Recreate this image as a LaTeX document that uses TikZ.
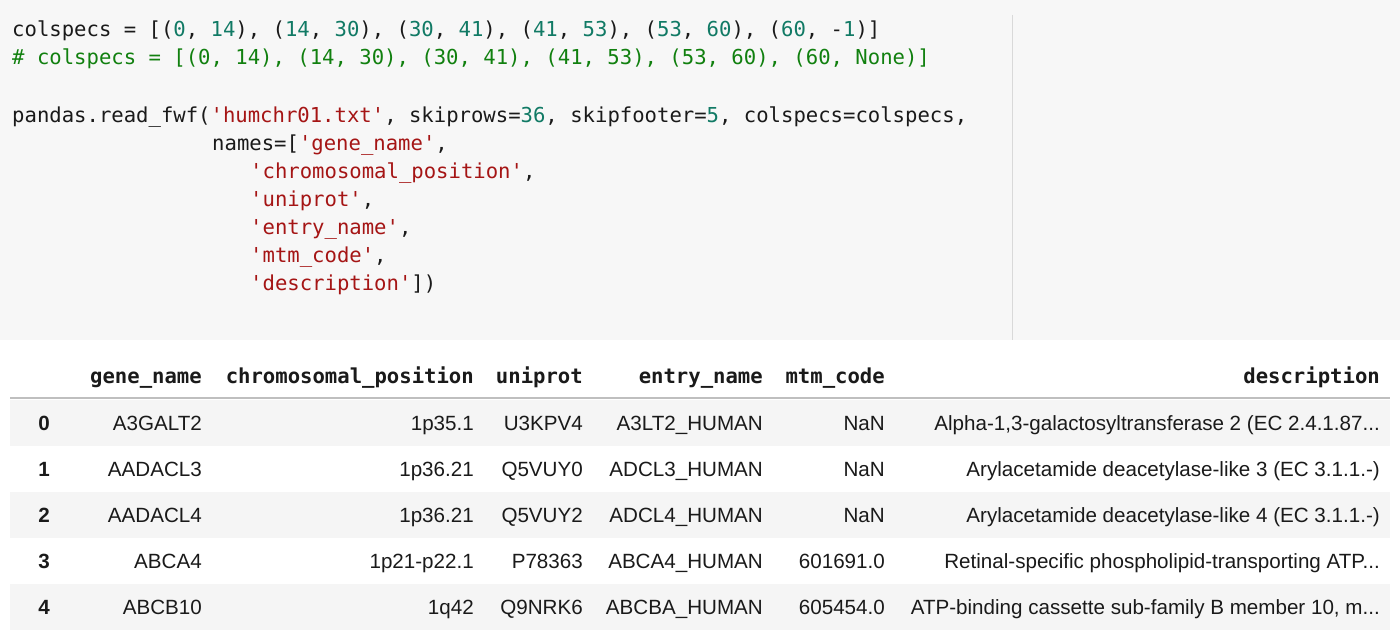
\documentclass[tikz,border=0pt]{standalone}
\usepackage{fontspec}
\setmainfont{Liberation Sans}
\setmonofont{DejaVu Sans Mono}
\definecolor{cellbg}{HTML}{F7F7F7}
\definecolor{rowbg}{HTML}{F5F5F5}
\definecolor{num}{HTML}{117A65}
\definecolor{cmt}{HTML}{11800F}
\definecolor{str}{HTML}{A51515}
\definecolor{txt}{HTML}{1A1A1A}
\newcommand\Nm[1]{\textcolor{num}{#1}}
\newcommand\Sg[1]{\textcolor{str}{#1}}
\tikzset{code/.style={anchor=base west,inner sep=0,font=\ttfamily\fontsize{20.6}{24}\selectfont,text=txt},
 hd/.style={anchor=base east,inner sep=0,font=\ttfamily\bfseries\fontsize{20.6}{24}\selectfont,text=txt},
 cell/.style={anchor=base east,inner sep=0,font=\fontsize{20.6}{24}\selectfont,text=txt},
 idx/.style={anchor=base,inner sep=0,font=\bfseries\fontsize{20.6}{24}\selectfont,text=txt}}
\begin{document}
\begin{tikzpicture}[x=1pt,y=-1pt]
\useasboundingbox (0,0) rectangle (1400,634);
\fill[white] (0,0) rectangle (1400,634);
\fill[cellbg] (0,0) rectangle (1400,340);
\draw[black!15,line width=1pt] (1012,15) -- (1012,340);
\node[code] (l1) at (12,37) {colspecs = [(\Nm{0}, \Nm{14}), (\Nm{14}, \Nm{30}), (\Nm{30}, \Nm{41}), (\Nm{41}, \Nm{53}), (\Nm{53}, \Nm{60}), (\Nm{60}, -\Nm{1})]};
\node[code,text=cmt] (l2) at (12,65) {\# colspecs = [(0, 14), (14, 30), (30, 41), (41, 53), (53, 60), (60, None)]};
\node[code] (l4) at (12,122) {pandas.read\_fwf(\Sg{'humchr01.txt'}, skiprows=\Nm{36}, skipfooter=\Nm{5}, colspecs=colspecs,};
\node[code] (l5) at (212,150) {names=[\Sg{'gene\_name'},};
\node[code] (l6) at (250,178) {\Sg{'chromosomal\_position'},};
\node[code] (l7) at (250,206) {\Sg{'uniprot'},};
\node[code] (l8) at (250,234) {\Sg{'entry\_name'},};
\node[code] (l9) at (250,262) {\Sg{'mtm\_code'},};
\node[code] (l10) at (250,290) {\Sg{'description'}])};
% table
\foreach \y in {400,492,584}{\fill[rowbg] (10,\y) rectangle (1390,\y+46);}
\draw[black!25,line width=1.2pt] (10,398) -- (1390,398);
\foreach \x/\t in {202/gene\_name,474/chromosomal\_position,583/uniprot,763/entry\_name,885/mtm\_code,1380/description}
 \node[hd] at (\x,383) {\t};
\foreach \i/\a/\b/\c/\d/\e/\f [count=\k from 0] in {
 0/A3GALT2/1p35.1/U3KPV4/A3LT2\_HUMAN/NaN/{Alpha-1,3-galactosyltransferase 2 (EC 2.4.1.87...},
 1/AADACL3/1p36.21/Q5VUY0/ADCL3\_HUMAN/NaN/{Arylacetamide deacetylase-like 3 (EC 3.1.1.-)},
 2/AADACL4/1p36.21/Q5VUY2/ADCL4\_HUMAN/NaN/{Arylacetamide deacetylase-like 4 (EC 3.1.1.-)},
 3/ABCA4/1p21-p22.1/P78363/ABCA4\_HUMAN/601691.0/{Retinal-specific phospholipid-transporting ATP...},
 4/ABCB10/1q42/Q9NRK6/ABCBA\_HUMAN/605454.0/{ATP-binding cassette sub-family B member 10, m...}}{
 \pgfmathsetmacro\yy{430+46*\k}
 \node[idx] at (44,\yy) {\i};
 \node[cell] at (202,\yy) {\a};
 \node[cell] at (474,\yy) {\b};
 \node[cell] at (583,\yy) {\c};
 \node[cell] at (763,\yy) {\d};
 \node[cell] at (885,\yy) {\e};
 \node[cell] at (1380,\yy) {\f};
}
\end{tikzpicture}
\end{document}
